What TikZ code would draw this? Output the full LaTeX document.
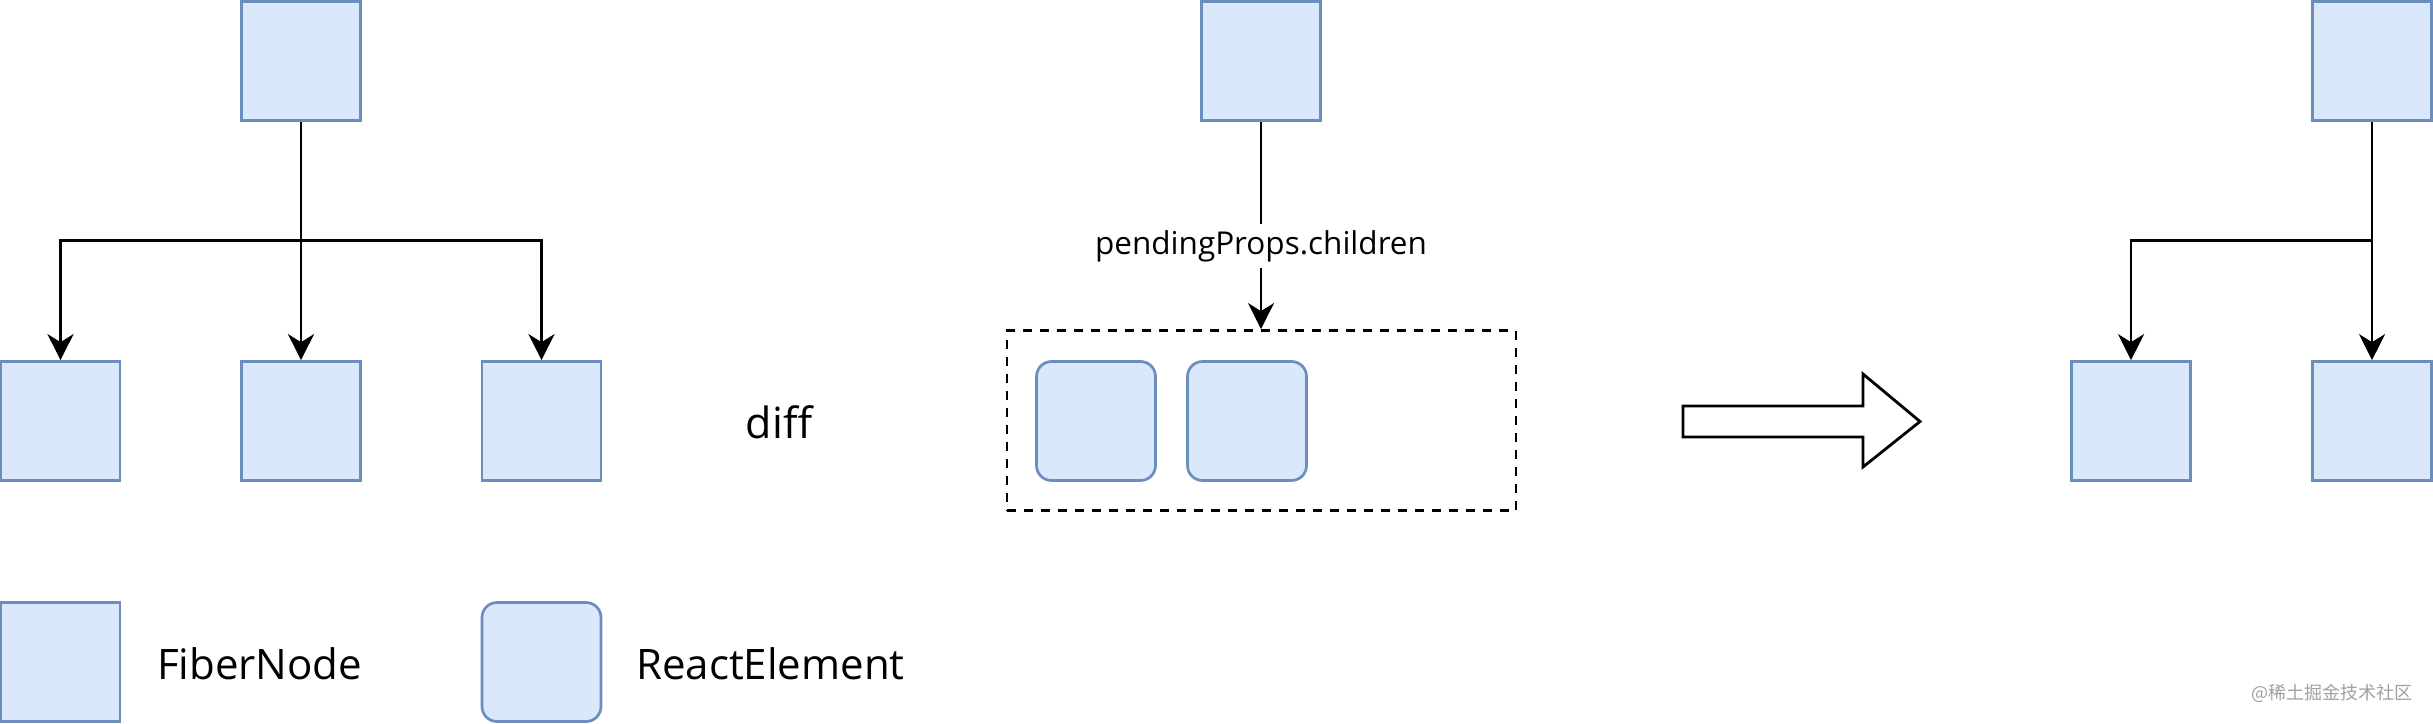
\documentclass[tikz,border=0pt]{standalone}
\usepackage{fontspec}
\setmainfont{Open Sans}
\newfontfamily\cjkfont{Noto Sans CJK SC}
\usetikzlibrary{arrows.meta}
\definecolor{fibfill}{HTML}{DAE8FC}
\definecolor{fibdraw}{HTML}{6C8EBF}
\definecolor{wmgray}{HTML}{A0A0A0}
\tikzset{
  fiber/.style={draw=fibdraw, fill=fibfill, line width=2.7pt, minimum size=119pt, inner sep=0pt},
  relem/.style={fiber, rounded corners=15pt},
  arr/.style={line width=2.8pt, -{Stealth[length=26pt, width=26pt, inset=8pt]}},
  lbl/.style={font=\fontsize{42}{50}\selectfont, inner sep=0pt, anchor=west},
  edgelbl/.style={font=\fontsize{31.5}{38}\selectfont, fill=white, inner sep=6pt},
  dashbox/.style={draw, line width=2.8pt, dash pattern=on 9pt off 8pt},
  bigarrow/.style={draw, line width=2.8pt, fill=white, line join=miter}
}
\begin{document}
\begin{tikzpicture}[x=1pt, y=-1pt]
\useasboundingbox (0,0) rectangle (2433,723);
% tree 1
\node[fiber] (t1) at (301,61) {};
\node[fiber] (c11) at (60.5,421) {};
\node[fiber] (c12) at (301,421) {};
\node[fiber] (c13) at (541.5,421) {};
\coordinate (b1) at (301,240.5);
\draw[arr] (t1.south) -- (c12.north);
\draw[arr] (b1) -| (c11.north);
\draw[arr] (b1) -| (c13.north);
% diff
\node[font=\fontsize{43}{50}\selectfont, inner sep=0pt] (diff) at (779,422) {diff};
% middle
\node[fiber] (t2) at (1261,61) {};
\node[dashbox, minimum width=509pt, minimum height=180pt, inner sep=0pt] (dbox) at (1261.5,420.5) {};
\node[relem] (r1) at (1096,421) {};
\node[relem] (r2) at (1247,421) {};
\draw[arr] (t2.south) -- node[edgelbl, pos=0.6] (plbl) {pendingProps.children} (t2.south |- dbox.north);
% big arrow
\draw[bigarrow] (1683,406) -- (1863,406) -- (1863,374) -- (1920,421.5) -- (1863,467) -- (1863,437) -- (1683,437) -- cycle;
% tree 3
\node[fiber] (t3) at (2372,61) {};
\node[fiber] (c31) at (2131,421) {};
\node[fiber] (c32) at (2372,421) {};
\coordinate (b3) at (2372,240.5);
\draw[arr] (t3.south) -- (c32.north);
\draw[arr] (b3) -| (c31.north);
% legend
\node[fiber] (lf) at (60.5,662) {};
\node[lbl] (lft) at (157,664) {FiberNode};
\node[relem] (lr) at (541.5,662) {};
\node[lbl] (lrt) at (636,664) {ReactElement};
% watermark
\node[font=\cjkfont\fontsize{18}{22}\selectfont, text=wmgray, inner sep=0pt] (wm) at (2332,693) {@稀土掘金技术社区};
\end{tikzpicture}
\end{document}
